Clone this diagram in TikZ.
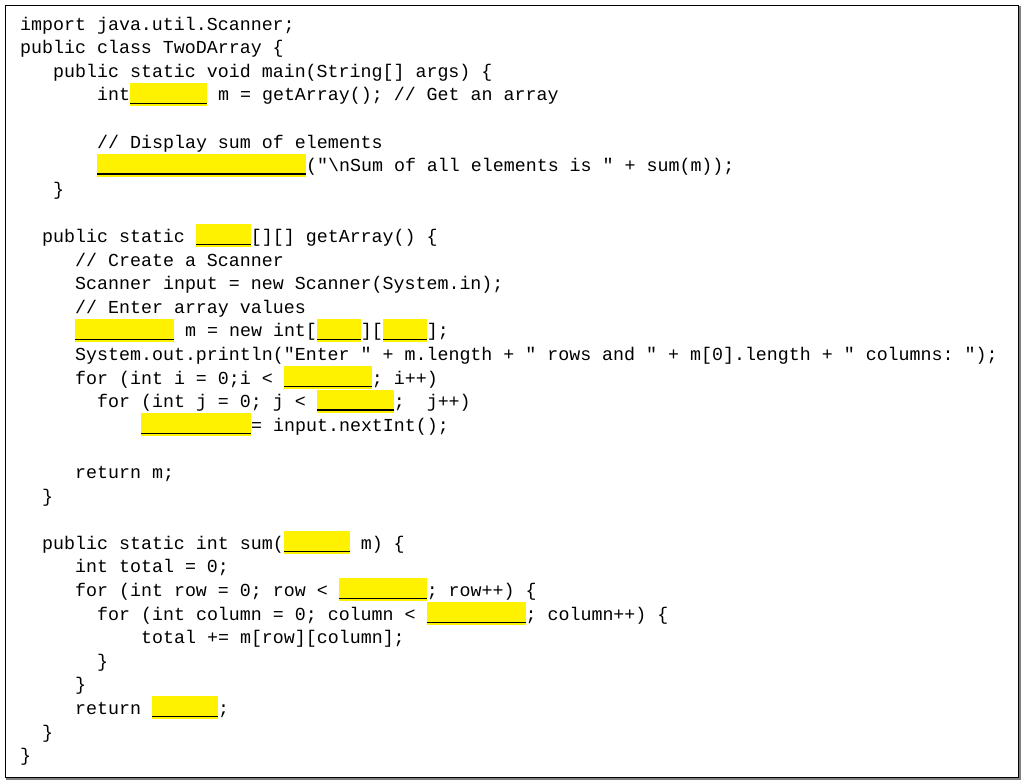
\documentclass[tikz,border=0pt]{standalone}
\usepackage{fontspec}
\setmonofont{Liberation Mono}
\newlength\cw \setlength\cw{11pt}
\newcommand\blank[1]{\rlap{\color{yellow}\rule[-5pt]{#1\cw}{23pt}}\rlap{\rule[-3pt]{#1\cw}{1.2pt}}\hspace{#1\cw}}
\tikzset{ln/.style={anchor=base west,inner sep=0pt,font=\ttfamily\fontsize{18.3}{20}\selectfont}}
\newcommand\codeln[3]{\node[ln] (l#1) at ({20+11*#2},{-30-23.6*(#1-1)}) {#3};}
\begin{document}
\begin{tikzpicture}[x=1pt,y=1pt]
\useasboundingbox (0,0) rectangle (1024,-782);
\draw[line width=2pt,gray] (7,-7) rectangle (1020,-779);
\draw[line width=1pt,black,fill=white] (5,-5) rectangle (1018,-777);
\codeln{1}{0}{import java.util.Scanner;}
\codeln{2}{0}{public class TwoDArray \{}
\codeln{3}{3}{public static void main(String[] args) \{}
\codeln{4}{7}{int\blank{7} m = getArray(); // Get an array}
\codeln{6}{7}{// Display sum of elements}
\codeln{7}{7}{\blank{19}("\textbackslash nSum of all elements is " + sum(m));}
\codeln{8}{3}{\}}
\codeln{10}{2}{public static \blank{5}[][] getArray() \{}
\codeln{11}{5}{// Create a Scanner}
\codeln{12}{5}{Scanner input = new Scanner(System.in);}
\codeln{13}{5}{// Enter array values}
\codeln{14}{5}{\blank{9} m = new int[\blank{4}][\blank{4}];}
\codeln{15}{5}{System.out.println("Enter " + m.length + " rows and " + m[0].length + " columns: ");}
\codeln{16}{5}{for (int i = 0;i < \blank{8}; i++)}
\codeln{17}{7}{for (int j = 0; j < \blank{7};\ \ j++)}
\codeln{18}{11}{\blank{10}= input.nextInt();}
\codeln{20}{5}{return m;}
\codeln{21}{2}{\}}
\codeln{23}{2}{public static int sum(\blank{6} m) \{}
\codeln{24}{5}{int total = 0;}
\codeln{25}{5}{for (int row = 0; row < \blank{8}; row++) \{}
\codeln{26}{7}{for (int column = 0; column < \blank{9}; column++) \{}
\codeln{27}{11}{total += m[row][column];}
\codeln{28}{7}{\}}
\codeln{29}{5}{\}}
\codeln{30}{5}{return \blank{6};}
\codeln{31}{2}{\}}
\codeln{32}{0}{\}}
\end{tikzpicture}
\end{document}
